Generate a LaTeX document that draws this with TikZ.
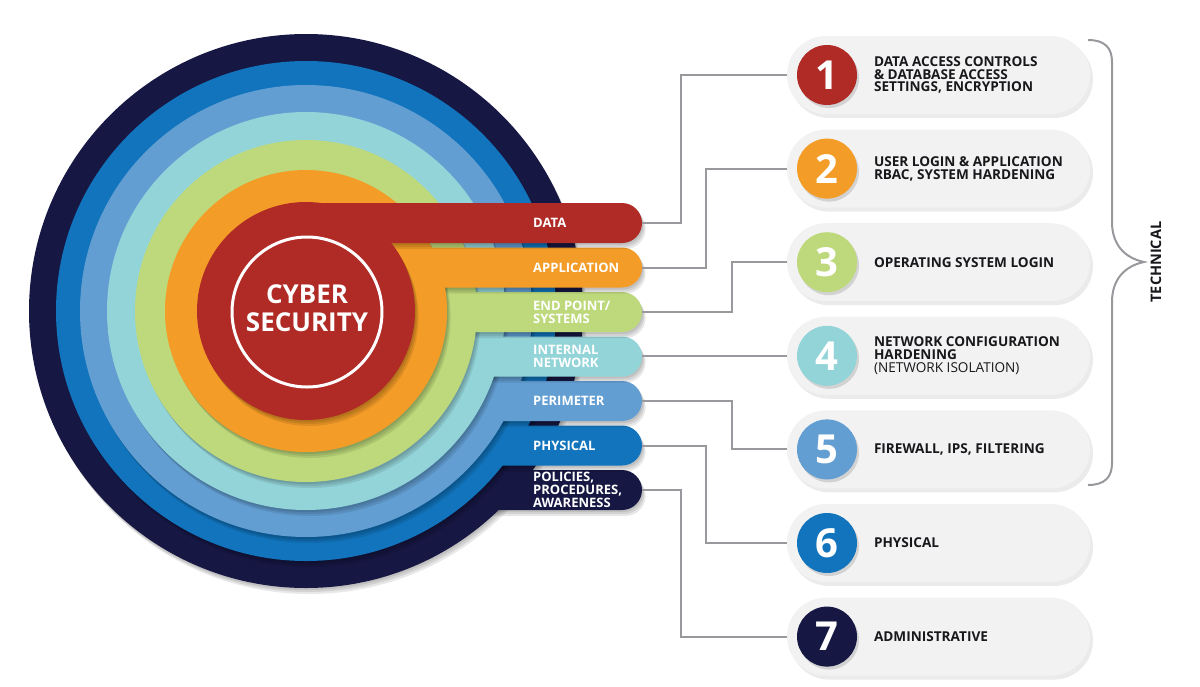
\documentclass[tikz,border=0pt]{standalone}
\usepackage{fontspec}
\setmainfont{Open Sans}
\usetikzlibrary{shadows, positioning}
\definecolor{lyred}{RGB}{176,42,38}
\definecolor{lyorange}{RGB}{243,156,39}
\definecolor{lygreen}{RGB}{189,217,123}
\definecolor{lyteal}{RGB}{147,212,217}
\definecolor{lymid}{RGB}{98,158,210}
\definecolor{lydark}{RGB}{17,116,188}
\definecolor{lynavy}{RGB}{22,23,67}
\definecolor{wiregray}{RGB}{152,152,157}
\definecolor{cardgray}{RGB}{242,242,242}
\definecolor{ink}{RGB}{24,24,28}
\newcommand{\fsz}[2]{\fontsize{#1}{#2}\selectfont}

\begin{document}
\begin{tikzpicture}[x=1pt, y=-1pt, every node/.style={font=\bfseries},
      node distance=15.2pt,
      wire/.style={draw=wiregray, line width=2pt},
      tag/.style={text=white, anchor=west, align=left, inner sep=0pt,
                  font=\bfseries\fsz{13}{12.7}},
      card/.style={fill=cardgray, rounded corners=39pt, minimum width=303pt,
                   minimum height=78pt, inner sep=0pt,
                   drop shadow={shadow xshift=3pt, shadow yshift=-4pt, opacity=.16}},
      badge/.style={circle, minimum size=60pt, inner sep=0pt, text=white,
                    font=\bfseries\fsz{40}{40},
                    drop shadow={shadow xshift=2pt, shadow yshift=-3pt, opacity=.28}},
      blurb/.style={anchor=west, align=left, inner sep=0pt, text=ink,
                    font=\bfseries\fsz{13.6}{12.7}}]
    \useasboundingbox (0,0) rectangle (1200,686);

    % rings, outermost first, each with its band
    \foreach \r/\c/\i in {277/lynavy/7, 250/lydark/6, 226/lymid/5, 199/lyteal/4,
                          171/lygreen/3, 141/lyorange/2, 109/lyred/1} {
      \pgfmathsetmacro\yc{223+44.5*(\i-1)}
      \foreach \s in {2,4,6} {
        \fill[black, opacity=.09] (306+\s*.6,311+\s) circle[radius=\r];
        \fill[black, opacity=.09, rounded corners=20pt]
          (306+\s*.6,\yc-20+\s) rectangle (642+\s*.6,\yc+20+\s);
      }
      \fill[\c] (306,311) circle[radius=\r];
      \fill[\c, rounded corners=20pt] (306,\yc-20) rectangle (642,\yc+20);
      \coordinate (p\i) at (642,\yc);
    }

    \node[circle, draw=white, line width=3pt, minimum size=150pt, inner sep=0pt]
      (core) at (307,312) {};
    \node[text=white, align=center, font=\bfseries\fsz{26}{28}] (cs) at (307,308)
      {CYBER\\SECURITY};

    % band labels
    \node[tag] (t1) at (533,223) {DATA};
    \node[tag] (t2) at (533,267.5) {APPLICATION};
    \node[tag] (t3) at (533,312) {END POINT/\\SYSTEMS};
    \node[tag] (t4) at (533,356.5) {INTERNAL\\NETWORK};
    \node[tag] (t5) at (533,401) {PERIMETER};
    \node[tag] (t6) at (533,445.5) {PHYSICAL};
    \node[tag] (t7) at (533,490) {POLICIES,\\PROCEDURES,\\AWARENESS};

    % cards
    \node[card] (b1) at (938.5,75) {};
    \node[card, below=of b1] (b2) {};
    \node[card, below=of b2] (b3) {};
    \node[card, below=of b3] (b4) {};
    \node[card, below=of b4] (b5) {};
    \node[card, below=of b5] (b6) {};
    \node[card, below=of b6] (b7) {};

    \foreach \i/\c in {1/lyred, 2/lyorange, 3/lygreen, 4/lyteal,
                       5/lymid, 6/lydark, 7/lynavy}
      \node[badge, fill=\c, right=10pt of b\i.west] (n\i) {\i};

    \node[blurb, right=87pt of b1.west] (d1)
      {DATA ACCESS CONTROLS\\\& DATABASE ACCESS\\SETTINGS, ENCRYPTION};
    \node[blurb, right=87pt of b2.west] (d2)
      {USER LOGIN \& APPLICATION\\RBAC, SYSTEM HARDENING};
    \node[blurb, right=87pt of b3.west] (d3) {OPERATING SYSTEM LOGIN};
    \node[blurb, right=87pt of b4.west] (d4)
      {NETWORK CONFIGURATION\\HARDENING\\{\mdseries (NETWORK ISOLATION)}};
    \node[blurb, right=87pt of b5.west] (d5) {FIREWALL, IPS, FILTERING};
    \node[blurb, right=87pt of b6.west] (d6) {PHYSICAL};
    \node[blurb, right=87pt of b7.west] (d7) {ADMINISTRATIVE};

    % connectors
    \draw[wire] (p1) -- ++(39,0) |- (b1.west);
    \draw[wire] (p2) -- ++(64,0) |- (b2.west);
    \draw[wire] (p3) -- ++(90,0) |- (b3.west);
    \draw[wire] (p4 |- b4.west) -- (b4.west);
    \draw[wire] (p5) -- ++(90,0) |- (b5.west);
    \draw[wire] (p6) -- ++(64,0) |- (b6.west);
    \draw[wire] (p7) -- ++(39,0) |- (b7.west);

    % brace over the technical group
    \coordinate (tip) at (1144,262);
    \draw[wire] (1088,40) .. controls (1105,40) and (1112,48) .. (1112,62)
      -- (1112,222) .. controls (1112,245) and (1125,258) .. (tip)
      .. controls (1125,266) and (1112,279) .. (1112,302)
      -- (1112,463) .. controls (1112,477) and (1105,485) .. (1088,485);
    \node[rotate=90, text=ink, font=\bfseries\fsz{14.5}{14.5}, right=3pt of tip,
          anchor=north] (tech) {TECHNICAL};
\end{tikzpicture}
\end{document}
